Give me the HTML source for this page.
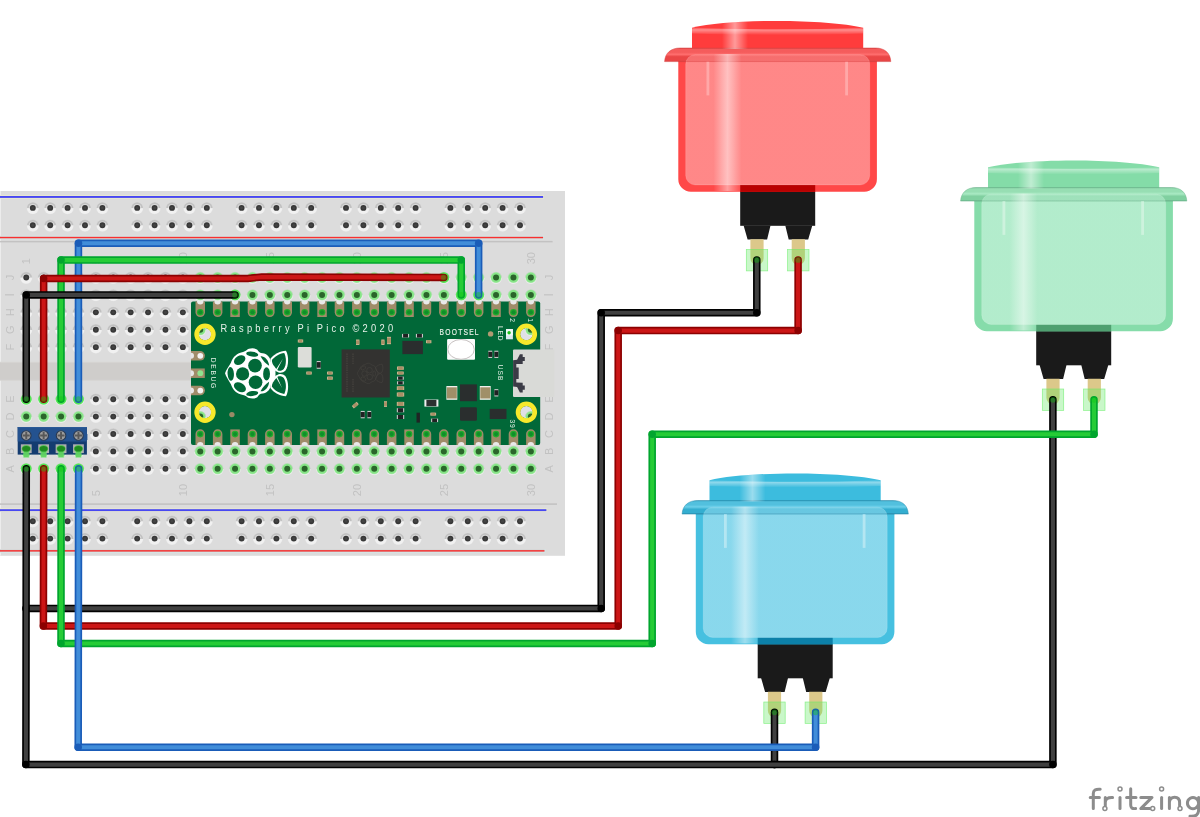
<!DOCTYPE html>
<html><head><meta charset="utf-8"><title>Fritzing breadboard</title>
<style>
html,body{margin:0;padding:0;background:#fff;}
body{width:1200px;height:817px;overflow:hidden;font-family:"Liberation Sans",sans-serif;}
svg{display:block;will-change:transform;opacity:0.9999;}
text{font-family:"Liberation Sans",sans-serif;}
</style></head><body>
<svg width="1200" height="817" viewBox="0 0 1200 817">
<defs>
<linearGradient id="hg" x1="0" y1="0" x2="0" y2="1"><stop offset="0" stop-color="#c2c2c2"/><stop offset="0.45" stop-color="#d6d6d6"/><stop offset="0.6" stop-color="#f2f2f2"/><stop offset="1" stop-color="#f8f8f8"/></linearGradient>
<radialGradient id="gg"><stop offset="0" stop-color="#86e486"/><stop offset="0.8" stop-color="#86e486"/><stop offset="1" stop-color="#b4ecb4"/></radialGradient>
<g id="hb"><path d="M-6 0.3A6 6 0 0 1 6 0.3Z" fill="#d0d0d0"/><path d="M-5.6 0.3A5.6 5.6 0 0 1 5.6 0.3Z" fill="#c0c0c0"/><path d="M-4.1 0.3A4.1 4.1 0 0 1 4.1 0.3Z" fill="#dadada"/><path d="M-6.1 0.3A6.1 6.1 0 0 0 6.1 0.3Z" fill="#e6e6e6"/><path d="M-5.7 0.3A5.7 5.7 0 0 0 5.7 0.3Z" fill="#f1f1f1"/></g>
<g id="h"><use href="#hb"/><circle r="2.95" fill="#383838"/><circle r="1.4" fill="#444"/></g>
<g id="g"><use href="#hb"/><circle r="5.5" fill="url(#gg)"/><circle r="3" fill="#2b652b"/></g>
<g id="pp"><circle r="3.3" fill="#22ad2c"/><circle r="2.1" fill="#108f2a"/></g>
</defs>
<rect width="1200" height="817" fill="#fff"/>

<g id="breadboard">
<rect x="0" y="191.0" width="565.0" height="364.79999999999995" fill="#dcdcdc"/>
<rect x="0" y="191.0" width="1" height="364.79999999999995" fill="#ececec"/>
<rect x="0" y="361.8" width="553" height="19" fill="#d6d5d3"/>
<rect x="0" y="362.8" width="553" height="17" fill="#cfcdcb"/>
<rect x="0" y="240.9" width="552.6" height="1.5" fill="#c3c2c2"/>
<rect x="0" y="195.1" width="544" height="3.7" fill="#e9e8d2"/>
<rect x="0" y="196" width="543.1" height="1.9" fill="#4848f2"/>
<rect x="0" y="235.8" width="544" height="3.5" fill="#d3e8e8"/>
<rect x="0" y="236.8" width="543.1" height="1.5" fill="#f83030"/>
<rect x="0" y="503.3" width="557" height="1.6" fill="#c3c2c2"/>
<rect x="0" y="508.3" width="547.3" height="3.7" fill="#e9e8d2"/>
<rect x="0" y="509.2" width="546.4" height="1.9" fill="#4848f2"/>
<rect x="0" y="549" width="545.4" height="3.7" fill="#d3e8e8"/>
<rect x="0" y="549.9" width="544.5" height="1.8" fill="#f04444"/>
<g font-size="11" fill="#c2c2c2">
<text transform="translate(13.5,277.55) rotate(-90)" text-anchor="middle">J</text>
<text transform="translate(553.3,277.55) rotate(-90)" text-anchor="middle">J</text>
<text transform="translate(13.5,294.95) rotate(-90)" text-anchor="middle" font-family="Liberation Mono" font-size="12">I</text>
<text transform="translate(553.3,294.95) rotate(-90)" text-anchor="middle" font-family="Liberation Mono" font-size="12">I</text>
<text transform="translate(13.5,312.35) rotate(-90)" text-anchor="middle">H</text>
<text transform="translate(553.3,312.35) rotate(-90)" text-anchor="middle">H</text>
<text transform="translate(13.5,329.75) rotate(-90)" text-anchor="middle">G</text>
<text transform="translate(553.3,329.75) rotate(-90)" text-anchor="middle">G</text>
<text transform="translate(13.5,347.15) rotate(-90)" text-anchor="middle">F</text>
<text transform="translate(553.3,347.15) rotate(-90)" text-anchor="middle">F</text>
<text transform="translate(13.5,399.2) rotate(-90)" text-anchor="middle">E</text>
<text transform="translate(553.3,399.2) rotate(-90)" text-anchor="middle">E</text>
<text transform="translate(13.5,416.6) rotate(-90)" text-anchor="middle">D</text>
<text transform="translate(553.3,416.6) rotate(-90)" text-anchor="middle">D</text>
<text transform="translate(13.5,434) rotate(-90)" text-anchor="middle">C</text>
<text transform="translate(553.3,434) rotate(-90)" text-anchor="middle">C</text>
<text transform="translate(13.5,451.4) rotate(-90)" text-anchor="middle">B</text>
<text transform="translate(553.3,451.4) rotate(-90)" text-anchor="middle">B</text>
<text transform="translate(13.5,468.8) rotate(-90)" text-anchor="middle">A</text>
<text transform="translate(553.3,468.8) rotate(-90)" text-anchor="middle">A</text>
<text transform="translate(30.25,264.3) rotate(-90)">1</text>
<text transform="translate(30.25,496.2) rotate(-90)">1</text>
<text transform="translate(99.85,264.3) rotate(-90)">5</text>
<text transform="translate(99.85,496.2) rotate(-90)">5</text>
<text transform="translate(186.85,264.3) rotate(-90)">10</text>
<text transform="translate(186.85,496.2) rotate(-90)">10</text>
<text transform="translate(273.85,264.3) rotate(-90)">15</text>
<text transform="translate(273.85,496.2) rotate(-90)">15</text>
<text transform="translate(360.85,264.3) rotate(-90)">20</text>
<text transform="translate(360.85,496.2) rotate(-90)">20</text>
<text transform="translate(447.85,264.3) rotate(-90)">25</text>
<text transform="translate(447.85,496.2) rotate(-90)">25</text>
<text transform="translate(534.85,264.3) rotate(-90)">30</text>
<text transform="translate(534.85,496.2) rotate(-90)">30</text>
</g>
<use href="#h" x="32.8" y="207.9"/>
<use href="#h" x="50.2" y="207.9"/>
<use href="#h" x="67.6" y="207.9"/>
<use href="#h" x="85" y="207.9"/>
<use href="#h" x="102.4" y="207.9"/>
<use href="#h" x="137.2" y="207.9"/>
<use href="#h" x="154.6" y="207.9"/>
<use href="#h" x="172" y="207.9"/>
<use href="#h" x="189.4" y="207.9"/>
<use href="#h" x="206.8" y="207.9"/>
<use href="#h" x="241.6" y="207.9"/>
<use href="#h" x="259" y="207.9"/>
<use href="#h" x="276.4" y="207.9"/>
<use href="#h" x="293.8" y="207.9"/>
<use href="#h" x="311.2" y="207.9"/>
<use href="#h" x="346" y="207.9"/>
<use href="#h" x="363.4" y="207.9"/>
<use href="#h" x="380.8" y="207.9"/>
<use href="#h" x="398.2" y="207.9"/>
<use href="#h" x="415.6" y="207.9"/>
<use href="#h" x="450.4" y="207.9"/>
<use href="#h" x="467.8" y="207.9"/>
<use href="#h" x="485.2" y="207.9"/>
<use href="#h" x="502.6" y="207.9"/>
<use href="#h" x="520" y="207.9"/>
<use href="#h" x="32.8" y="225.3"/>
<use href="#h" x="50.2" y="225.3"/>
<use href="#h" x="67.6" y="225.3"/>
<use href="#h" x="85" y="225.3"/>
<use href="#h" x="102.4" y="225.3"/>
<use href="#h" x="137.2" y="225.3"/>
<use href="#h" x="154.6" y="225.3"/>
<use href="#h" x="172" y="225.3"/>
<use href="#h" x="189.4" y="225.3"/>
<use href="#h" x="206.8" y="225.3"/>
<use href="#h" x="241.6" y="225.3"/>
<use href="#h" x="259" y="225.3"/>
<use href="#h" x="276.4" y="225.3"/>
<use href="#h" x="293.8" y="225.3"/>
<use href="#h" x="311.2" y="225.3"/>
<use href="#h" x="346" y="225.3"/>
<use href="#h" x="363.4" y="225.3"/>
<use href="#h" x="380.8" y="225.3"/>
<use href="#h" x="398.2" y="225.3"/>
<use href="#h" x="415.6" y="225.3"/>
<use href="#h" x="450.4" y="225.3"/>
<use href="#h" x="467.8" y="225.3"/>
<use href="#h" x="485.2" y="225.3"/>
<use href="#h" x="502.6" y="225.3"/>
<use href="#h" x="520" y="225.3"/>
<use href="#h" x="32.8" y="521.2"/>
<use href="#h" x="50.2" y="521.2"/>
<use href="#h" x="67.6" y="521.2"/>
<use href="#h" x="85" y="521.2"/>
<use href="#h" x="102.4" y="521.2"/>
<use href="#h" x="137.2" y="521.2"/>
<use href="#h" x="154.6" y="521.2"/>
<use href="#h" x="172" y="521.2"/>
<use href="#h" x="189.4" y="521.2"/>
<use href="#h" x="206.8" y="521.2"/>
<use href="#h" x="241.6" y="521.2"/>
<use href="#h" x="259" y="521.2"/>
<use href="#h" x="276.4" y="521.2"/>
<use href="#h" x="293.8" y="521.2"/>
<use href="#h" x="311.2" y="521.2"/>
<use href="#h" x="346" y="521.2"/>
<use href="#h" x="363.4" y="521.2"/>
<use href="#h" x="380.8" y="521.2"/>
<use href="#h" x="398.2" y="521.2"/>
<use href="#h" x="415.6" y="521.2"/>
<use href="#h" x="450.4" y="521.2"/>
<use href="#h" x="467.8" y="521.2"/>
<use href="#h" x="485.2" y="521.2"/>
<use href="#h" x="502.6" y="521.2"/>
<use href="#h" x="520" y="521.2"/>
<use href="#h" x="32.8" y="538.6"/>
<use href="#h" x="50.2" y="538.6"/>
<use href="#h" x="67.6" y="538.6"/>
<use href="#h" x="85" y="538.6"/>
<use href="#h" x="102.4" y="538.6"/>
<use href="#h" x="137.2" y="538.6"/>
<use href="#h" x="154.6" y="538.6"/>
<use href="#h" x="172" y="538.6"/>
<use href="#h" x="189.4" y="538.6"/>
<use href="#h" x="206.8" y="538.6"/>
<use href="#h" x="241.6" y="538.6"/>
<use href="#h" x="259" y="538.6"/>
<use href="#h" x="276.4" y="538.6"/>
<use href="#h" x="293.8" y="538.6"/>
<use href="#h" x="311.2" y="538.6"/>
<use href="#h" x="346" y="538.6"/>
<use href="#h" x="363.4" y="538.6"/>
<use href="#h" x="380.8" y="538.6"/>
<use href="#h" x="398.2" y="538.6"/>
<use href="#h" x="415.6" y="538.6"/>
<use href="#h" x="450.4" y="538.6"/>
<use href="#h" x="467.8" y="538.6"/>
<use href="#h" x="485.2" y="538.6"/>
<use href="#h" x="502.6" y="538.6"/>
<use href="#h" x="520" y="538.6"/>
<use href="#h" x="26.25" y="277.55"/>
<use href="#h" x="43.65" y="277.55"/>
<use href="#h" x="61.05" y="277.55"/>
<use href="#h" x="78.45" y="277.55"/>
<use href="#h" x="95.85" y="277.55"/>
<use href="#h" x="113.25" y="277.55"/>
<use href="#h" x="130.65" y="277.55"/>
<use href="#h" x="148.05" y="277.55"/>
<use href="#h" x="165.45" y="277.55"/>
<use href="#h" x="182.85" y="277.55"/>
<use href="#g" x="200.25" y="277.55"/>
<use href="#g" x="217.65" y="277.55"/>
<use href="#g" x="235.05" y="277.55"/>
<use href="#g" x="252.45" y="277.55"/>
<use href="#g" x="269.85" y="277.55"/>
<use href="#g" x="287.25" y="277.55"/>
<use href="#g" x="304.65" y="277.55"/>
<use href="#g" x="322.05" y="277.55"/>
<use href="#g" x="339.45" y="277.55"/>
<use href="#g" x="356.85" y="277.55"/>
<use href="#g" x="374.25" y="277.55"/>
<use href="#g" x="391.65" y="277.55"/>
<use href="#g" x="409.05" y="277.55"/>
<use href="#g" x="426.45" y="277.55"/>
<use href="#g" x="443.85" y="277.55"/>
<use href="#g" x="461.25" y="277.55"/>
<use href="#g" x="478.65" y="277.55"/>
<use href="#g" x="496.05" y="277.55"/>
<use href="#g" x="513.45" y="277.55"/>
<use href="#g" x="530.85" y="277.55"/>
<use href="#h" x="26.25" y="294.95"/>
<use href="#h" x="43.65" y="294.95"/>
<use href="#h" x="61.05" y="294.95"/>
<use href="#h" x="78.45" y="294.95"/>
<use href="#h" x="95.85" y="294.95"/>
<use href="#h" x="113.25" y="294.95"/>
<use href="#h" x="130.65" y="294.95"/>
<use href="#h" x="148.05" y="294.95"/>
<use href="#h" x="165.45" y="294.95"/>
<use href="#h" x="182.85" y="294.95"/>
<use href="#g" x="200.25" y="294.95"/>
<use href="#g" x="217.65" y="294.95"/>
<use href="#g" x="235.05" y="294.95"/>
<use href="#g" x="252.45" y="294.95"/>
<use href="#g" x="269.85" y="294.95"/>
<use href="#g" x="287.25" y="294.95"/>
<use href="#g" x="304.65" y="294.95"/>
<use href="#g" x="322.05" y="294.95"/>
<use href="#g" x="339.45" y="294.95"/>
<use href="#g" x="356.85" y="294.95"/>
<use href="#g" x="374.25" y="294.95"/>
<use href="#g" x="391.65" y="294.95"/>
<use href="#g" x="409.05" y="294.95"/>
<use href="#g" x="426.45" y="294.95"/>
<use href="#g" x="443.85" y="294.95"/>
<use href="#g" x="461.25" y="294.95"/>
<use href="#g" x="478.65" y="294.95"/>
<use href="#g" x="496.05" y="294.95"/>
<use href="#g" x="513.45" y="294.95"/>
<use href="#g" x="530.85" y="294.95"/>
<use href="#h" x="26.25" y="312.35"/>
<use href="#h" x="43.65" y="312.35"/>
<use href="#h" x="61.05" y="312.35"/>
<use href="#h" x="78.45" y="312.35"/>
<use href="#h" x="95.85" y="312.35"/>
<use href="#h" x="113.25" y="312.35"/>
<use href="#h" x="130.65" y="312.35"/>
<use href="#h" x="148.05" y="312.35"/>
<use href="#h" x="165.45" y="312.35"/>
<use href="#h" x="182.85" y="312.35"/>
<use href="#g" x="200.25" y="312.35"/>
<use href="#g" x="217.65" y="312.35"/>
<use href="#g" x="235.05" y="312.35"/>
<use href="#g" x="252.45" y="312.35"/>
<use href="#g" x="269.85" y="312.35"/>
<use href="#g" x="287.25" y="312.35"/>
<use href="#g" x="304.65" y="312.35"/>
<use href="#g" x="322.05" y="312.35"/>
<use href="#g" x="339.45" y="312.35"/>
<use href="#g" x="356.85" y="312.35"/>
<use href="#g" x="374.25" y="312.35"/>
<use href="#g" x="391.65" y="312.35"/>
<use href="#g" x="409.05" y="312.35"/>
<use href="#g" x="426.45" y="312.35"/>
<use href="#g" x="443.85" y="312.35"/>
<use href="#g" x="461.25" y="312.35"/>
<use href="#g" x="478.65" y="312.35"/>
<use href="#g" x="496.05" y="312.35"/>
<use href="#g" x="513.45" y="312.35"/>
<use href="#g" x="530.85" y="312.35"/>
<use href="#h" x="26.25" y="329.75"/>
<use href="#h" x="43.65" y="329.75"/>
<use href="#h" x="61.05" y="329.75"/>
<use href="#h" x="78.45" y="329.75"/>
<use href="#h" x="95.85" y="329.75"/>
<use href="#h" x="113.25" y="329.75"/>
<use href="#h" x="130.65" y="329.75"/>
<use href="#h" x="148.05" y="329.75"/>
<use href="#h" x="165.45" y="329.75"/>
<use href="#h" x="182.85" y="329.75"/>
<use href="#g" x="200.25" y="329.75"/>
<use href="#g" x="217.65" y="329.75"/>
<use href="#g" x="235.05" y="329.75"/>
<use href="#g" x="252.45" y="329.75"/>
<use href="#g" x="269.85" y="329.75"/>
<use href="#g" x="287.25" y="329.75"/>
<use href="#g" x="304.65" y="329.75"/>
<use href="#g" x="322.05" y="329.75"/>
<use href="#g" x="339.45" y="329.75"/>
<use href="#g" x="356.85" y="329.75"/>
<use href="#g" x="374.25" y="329.75"/>
<use href="#g" x="391.65" y="329.75"/>
<use href="#g" x="409.05" y="329.75"/>
<use href="#g" x="426.45" y="329.75"/>
<use href="#g" x="443.85" y="329.75"/>
<use href="#g" x="461.25" y="329.75"/>
<use href="#g" x="478.65" y="329.75"/>
<use href="#g" x="496.05" y="329.75"/>
<use href="#g" x="513.45" y="329.75"/>
<use href="#g" x="530.85" y="329.75"/>
<use href="#h" x="26.25" y="347.15"/>
<use href="#h" x="43.65" y="347.15"/>
<use href="#h" x="61.05" y="347.15"/>
<use href="#h" x="78.45" y="347.15"/>
<use href="#h" x="95.85" y="347.15"/>
<use href="#h" x="113.25" y="347.15"/>
<use href="#h" x="130.65" y="347.15"/>
<use href="#h" x="148.05" y="347.15"/>
<use href="#h" x="165.45" y="347.15"/>
<use href="#h" x="182.85" y="347.15"/>
<use href="#g" x="200.25" y="347.15"/>
<use href="#g" x="217.65" y="347.15"/>
<use href="#g" x="235.05" y="347.15"/>
<use href="#g" x="252.45" y="347.15"/>
<use href="#g" x="269.85" y="347.15"/>
<use href="#g" x="287.25" y="347.15"/>
<use href="#g" x="304.65" y="347.15"/>
<use href="#g" x="322.05" y="347.15"/>
<use href="#g" x="339.45" y="347.15"/>
<use href="#g" x="356.85" y="347.15"/>
<use href="#g" x="374.25" y="347.15"/>
<use href="#g" x="391.65" y="347.15"/>
<use href="#g" x="409.05" y="347.15"/>
<use href="#g" x="426.45" y="347.15"/>
<use href="#g" x="443.85" y="347.15"/>
<use href="#g" x="461.25" y="347.15"/>
<use href="#g" x="478.65" y="347.15"/>
<use href="#g" x="496.05" y="347.15"/>
<use href="#g" x="513.45" y="347.15"/>
<use href="#g" x="530.85" y="347.15"/>
<use href="#g" x="26.25" y="399.2"/>
<use href="#g" x="43.65" y="399.2"/>
<use href="#g" x="61.05" y="399.2"/>
<use href="#g" x="78.45" y="399.2"/>
<use href="#h" x="95.85" y="399.2"/>
<use href="#h" x="113.25" y="399.2"/>
<use href="#h" x="130.65" y="399.2"/>
<use href="#h" x="148.05" y="399.2"/>
<use href="#h" x="165.45" y="399.2"/>
<use href="#h" x="182.85" y="399.2"/>
<use href="#g" x="200.25" y="399.2"/>
<use href="#g" x="217.65" y="399.2"/>
<use href="#g" x="235.05" y="399.2"/>
<use href="#g" x="252.45" y="399.2"/>
<use href="#g" x="269.85" y="399.2"/>
<use href="#g" x="287.25" y="399.2"/>
<use href="#g" x="304.65" y="399.2"/>
<use href="#g" x="322.05" y="399.2"/>
<use href="#g" x="339.45" y="399.2"/>
<use href="#g" x="356.85" y="399.2"/>
<use href="#g" x="374.25" y="399.2"/>
<use href="#g" x="391.65" y="399.2"/>
<use href="#g" x="409.05" y="399.2"/>
<use href="#g" x="426.45" y="399.2"/>
<use href="#g" x="443.85" y="399.2"/>
<use href="#g" x="461.25" y="399.2"/>
<use href="#g" x="478.65" y="399.2"/>
<use href="#g" x="496.05" y="399.2"/>
<use href="#g" x="513.45" y="399.2"/>
<use href="#g" x="530.85" y="399.2"/>
<use href="#g" x="26.25" y="416.6"/>
<use href="#g" x="43.65" y="416.6"/>
<use href="#g" x="61.05" y="416.6"/>
<use href="#g" x="78.45" y="416.6"/>
<use href="#h" x="95.85" y="416.6"/>
<use href="#h" x="113.25" y="416.6"/>
<use href="#h" x="130.65" y="416.6"/>
<use href="#h" x="148.05" y="416.6"/>
<use href="#h" x="165.45" y="416.6"/>
<use href="#h" x="182.85" y="416.6"/>
<use href="#g" x="200.25" y="416.6"/>
<use href="#g" x="217.65" y="416.6"/>
<use href="#g" x="235.05" y="416.6"/>
<use href="#g" x="252.45" y="416.6"/>
<use href="#g" x="269.85" y="416.6"/>
<use href="#g" x="287.25" y="416.6"/>
<use href="#g" x="304.65" y="416.6"/>
<use href="#g" x="322.05" y="416.6"/>
<use href="#g" x="339.45" y="416.6"/>
<use href="#g" x="356.85" y="416.6"/>
<use href="#g" x="374.25" y="416.6"/>
<use href="#g" x="391.65" y="416.6"/>
<use href="#g" x="409.05" y="416.6"/>
<use href="#g" x="426.45" y="416.6"/>
<use href="#g" x="443.85" y="416.6"/>
<use href="#g" x="461.25" y="416.6"/>
<use href="#g" x="478.65" y="416.6"/>
<use href="#g" x="496.05" y="416.6"/>
<use href="#g" x="513.45" y="416.6"/>
<use href="#g" x="530.85" y="416.6"/>
<use href="#g" x="26.25" y="434"/>
<use href="#g" x="43.65" y="434"/>
<use href="#g" x="61.05" y="434"/>
<use href="#g" x="78.45" y="434"/>
<use href="#h" x="95.85" y="434"/>
<use href="#h" x="113.25" y="434"/>
<use href="#h" x="130.65" y="434"/>
<use href="#h" x="148.05" y="434"/>
<use href="#h" x="165.45" y="434"/>
<use href="#h" x="182.85" y="434"/>
<use href="#g" x="200.25" y="434"/>
<use href="#g" x="217.65" y="434"/>
<use href="#g" x="235.05" y="434"/>
<use href="#g" x="252.45" y="434"/>
<use href="#g" x="269.85" y="434"/>
<use href="#g" x="287.25" y="434"/>
<use href="#g" x="304.65" y="434"/>
<use href="#g" x="322.05" y="434"/>
<use href="#g" x="339.45" y="434"/>
<use href="#g" x="356.85" y="434"/>
<use href="#g" x="374.25" y="434"/>
<use href="#g" x="391.65" y="434"/>
<use href="#g" x="409.05" y="434"/>
<use href="#g" x="426.45" y="434"/>
<use href="#g" x="443.85" y="434"/>
<use href="#g" x="461.25" y="434"/>
<use href="#g" x="478.65" y="434"/>
<use href="#g" x="496.05" y="434"/>
<use href="#g" x="513.45" y="434"/>
<use href="#g" x="530.85" y="434"/>
<use href="#g" x="26.25" y="451.4"/>
<use href="#g" x="43.65" y="451.4"/>
<use href="#g" x="61.05" y="451.4"/>
<use href="#g" x="78.45" y="451.4"/>
<use href="#h" x="95.85" y="451.4"/>
<use href="#h" x="113.25" y="451.4"/>
<use href="#h" x="130.65" y="451.4"/>
<use href="#h" x="148.05" y="451.4"/>
<use href="#h" x="165.45" y="451.4"/>
<use href="#h" x="182.85" y="451.4"/>
<use href="#g" x="200.25" y="451.4"/>
<use href="#g" x="217.65" y="451.4"/>
<use href="#g" x="235.05" y="451.4"/>
<use href="#g" x="252.45" y="451.4"/>
<use href="#g" x="269.85" y="451.4"/>
<use href="#g" x="287.25" y="451.4"/>
<use href="#g" x="304.65" y="451.4"/>
<use href="#g" x="322.05" y="451.4"/>
<use href="#g" x="339.45" y="451.4"/>
<use href="#g" x="356.85" y="451.4"/>
<use href="#g" x="374.25" y="451.4"/>
<use href="#g" x="391.65" y="451.4"/>
<use href="#g" x="409.05" y="451.4"/>
<use href="#g" x="426.45" y="451.4"/>
<use href="#g" x="443.85" y="451.4"/>
<use href="#g" x="461.25" y="451.4"/>
<use href="#g" x="478.65" y="451.4"/>
<use href="#g" x="496.05" y="451.4"/>
<use href="#g" x="513.45" y="451.4"/>
<use href="#g" x="530.85" y="451.4"/>
<use href="#g" x="26.25" y="468.8"/>
<use href="#g" x="43.65" y="468.8"/>
<use href="#g" x="61.05" y="468.8"/>
<use href="#g" x="78.45" y="468.8"/>
<use href="#h" x="95.85" y="468.8"/>
<use href="#h" x="113.25" y="468.8"/>
<use href="#h" x="130.65" y="468.8"/>
<use href="#h" x="148.05" y="468.8"/>
<use href="#h" x="165.45" y="468.8"/>
<use href="#h" x="182.85" y="468.8"/>
<use href="#g" x="200.25" y="468.8"/>
<use href="#g" x="217.65" y="468.8"/>
<use href="#g" x="235.05" y="468.8"/>
<use href="#g" x="252.45" y="468.8"/>
<use href="#g" x="269.85" y="468.8"/>
<use href="#g" x="287.25" y="468.8"/>
<use href="#g" x="304.65" y="468.8"/>
<use href="#g" x="322.05" y="468.8"/>
<use href="#g" x="339.45" y="468.8"/>
<use href="#g" x="356.85" y="468.8"/>
<use href="#g" x="374.25" y="468.8"/>
<use href="#g" x="391.65" y="468.8"/>
<use href="#g" x="409.05" y="468.8"/>
<use href="#g" x="426.45" y="468.8"/>
<use href="#g" x="443.85" y="468.8"/>
<use href="#g" x="461.25" y="468.8"/>
<use href="#g" x="478.65" y="468.8"/>
<use href="#g" x="496.05" y="468.8"/>
<use href="#g" x="513.45" y="468.8"/>
<use href="#g" x="530.85" y="468.8"/>
</g>
<g id="terminal">
<rect x="17.7" y="427.1" width="69.2" height="27.5" fill="#143c70"/>
<rect x="17.7" y="427.1" width="69.2" height="14.4" fill="#24528f"/>
<rect x="17.7" y="427.1" width="69.2" height="1" fill="#2c5a98"/>
<rect x="86.4" y="434" width="1" height="6" fill="#24528f"/>
<circle cx="26.25" cy="435.5" r="4.8" fill="#9c9c9c" stroke="#2a3a52" stroke-width="1.1"/>
<path d="M22.75 435.5h7M26.25 432v7" stroke="#585858" stroke-width="1.9" fill="none"/>
<rect x="20.85" y="444.3" width="10.8" height="8.8" fill="#b0aeb0"/>
<rect x="22.95" y="450.6" width="6.6" height="7.2" rx="0.8" fill="#7be87b" opacity="0.55"/>
<rect x="23.75" y="451" width="5" height="6.3" fill="#5fd25f" opacity="0.9"/>
<ellipse cx="26.25" cy="448.7" rx="4.6" ry="3.7" fill="#46c846" opacity="0.75"/>
<ellipse cx="26.25" cy="448.7" rx="4" ry="2.8" fill="#1f8a1f"/>
<circle cx="43.65" cy="435.5" r="4.8" fill="#9c9c9c" stroke="#2a3a52" stroke-width="1.1"/>
<path d="M40.15 435.5h7M43.65 432v7" stroke="#585858" stroke-width="1.9" fill="none"/>
<rect x="38.25" y="444.3" width="10.8" height="8.8" fill="#b0aeb0"/>
<rect x="40.35" y="450.6" width="6.6" height="7.2" rx="0.8" fill="#7be87b" opacity="0.55"/>
<rect x="41.15" y="451" width="5" height="6.3" fill="#5fd25f" opacity="0.9"/>
<ellipse cx="43.65" cy="448.7" rx="4.6" ry="3.7" fill="#46c846" opacity="0.75"/>
<ellipse cx="43.65" cy="448.7" rx="4" ry="2.8" fill="#1f8a1f"/>
<circle cx="61.05" cy="435.5" r="4.8" fill="#9c9c9c" stroke="#2a3a52" stroke-width="1.1"/>
<path d="M57.55 435.5h7M61.05 432v7" stroke="#585858" stroke-width="1.9" fill="none"/>
<rect x="55.65" y="444.3" width="10.8" height="8.8" fill="#b0aeb0"/>
<rect x="57.75" y="450.6" width="6.6" height="7.2" rx="0.8" fill="#7be87b" opacity="0.55"/>
<rect x="58.55" y="451" width="5" height="6.3" fill="#5fd25f" opacity="0.9"/>
<ellipse cx="61.05" cy="448.7" rx="4.6" ry="3.7" fill="#46c846" opacity="0.75"/>
<ellipse cx="61.05" cy="448.7" rx="4" ry="2.8" fill="#1f8a1f"/>
<circle cx="78.45" cy="435.5" r="4.8" fill="#9c9c9c" stroke="#2a3a52" stroke-width="1.1"/>
<path d="M74.95 435.5h7M78.45 432v7" stroke="#585858" stroke-width="1.9" fill="none"/>
<rect x="73.05" y="444.3" width="10.8" height="8.8" fill="#b0aeb0"/>
<rect x="75.15" y="450.6" width="6.6" height="7.2" rx="0.8" fill="#7be87b" opacity="0.55"/>
<rect x="75.95" y="451" width="5" height="6.3" fill="#5fd25f" opacity="0.9"/>
<ellipse cx="78.45" cy="448.7" rx="4.6" ry="3.7" fill="#46c846" opacity="0.75"/>
<ellipse cx="78.45" cy="448.7" rx="4" ry="2.8" fill="#1f8a1f"/>
</g>
<g id="pico">
<rect x="191.0" y="301.4" width="349.20000000000005" height="143.60000000000002" rx="2" fill="#006838"/>
<path d="M195.5 301.4h9.5v10.9a4.75 4.75 0 0 1 -9.5 0z" fill="#a08c69"/>
<path d="M195.5 445.0h9.5v-10.9a4.75 4.75 0 0 0 -9.5 0z" fill="#a08c69"/>
<path d="M197.05 301.09999999999997h6.4v0.3a3.2 3 0 0 1 -6.4 0z" fill="#e9e9e9"/>
<path d="M197.05 445.3h6.4v-0.3a3.2 3 0 0 0 -6.4 0z" fill="#e9e9e9"/>
<use href="#pp" x="200.25" y="312.25"/>
<use href="#pp" x="200.25" y="434.1"/>
<path d="M212.9 301.4h9.5v10.9a4.75 4.75 0 0 1 -9.5 0z" fill="#a08c69"/>
<path d="M212.9 445.0h9.5v-10.9a4.75 4.75 0 0 0 -9.5 0z" fill="#a08c69"/>
<path d="M214.45 301.09999999999997h6.4v0.3a3.2 3 0 0 1 -6.4 0z" fill="#e9e9e9"/>
<path d="M214.45 445.3h6.4v-0.3a3.2 3 0 0 0 -6.4 0z" fill="#e9e9e9"/>
<use href="#pp" x="217.65" y="312.25"/>
<use href="#pp" x="217.65" y="434.1"/>
<rect x="230.3" y="301.4" width="9.5" height="15.6" fill="#a08c69"/>
<rect x="230.3" y="429.4" width="9.5" height="15.6" fill="#a08c69"/>
<path d="M231.85 301.09999999999997h6.4v0.3a3.2 3 0 0 1 -6.4 0z" fill="#e9e9e9"/>
<path d="M231.85 445.3h6.4v-0.3a3.2 3 0 0 0 -6.4 0z" fill="#e9e9e9"/>
<use href="#pp" x="235.05" y="312.25"/>
<use href="#pp" x="235.05" y="434.1"/>
<path d="M247.7 301.4h9.5v10.9a4.75 4.75 0 0 1 -9.5 0z" fill="#a08c69"/>
<path d="M247.7 445.0h9.5v-10.9a4.75 4.75 0 0 0 -9.5 0z" fill="#a08c69"/>
<path d="M249.25 301.09999999999997h6.4v0.3a3.2 3 0 0 1 -6.4 0z" fill="#e9e9e9"/>
<path d="M249.25 445.3h6.4v-0.3a3.2 3 0 0 0 -6.4 0z" fill="#e9e9e9"/>
<use href="#pp" x="252.45" y="312.25"/>
<use href="#pp" x="252.45" y="434.1"/>
<path d="M265.1 301.4h9.5v10.9a4.75 4.75 0 0 1 -9.5 0z" fill="#a08c69"/>
<path d="M265.1 445.0h9.5v-10.9a4.75 4.75 0 0 0 -9.5 0z" fill="#a08c69"/>
<path d="M266.65 301.09999999999997h6.4v0.3a3.2 3 0 0 1 -6.4 0z" fill="#e9e9e9"/>
<path d="M266.65 445.3h6.4v-0.3a3.2 3 0 0 0 -6.4 0z" fill="#e9e9e9"/>
<use href="#pp" x="269.85" y="312.25"/>
<use href="#pp" x="269.85" y="434.1"/>
<path d="M282.5 301.4h9.5v10.9a4.75 4.75 0 0 1 -9.5 0z" fill="#a08c69"/>
<path d="M282.5 445.0h9.5v-10.9a4.75 4.75 0 0 0 -9.5 0z" fill="#a08c69"/>
<path d="M284.05 301.09999999999997h6.4v0.3a3.2 3 0 0 1 -6.4 0z" fill="#e9e9e9"/>
<path d="M284.05 445.3h6.4v-0.3a3.2 3 0 0 0 -6.4 0z" fill="#e9e9e9"/>
<use href="#pp" x="287.25" y="312.25"/>
<use href="#pp" x="287.25" y="434.1"/>
<path d="M299.9 301.4h9.5v10.9a4.75 4.75 0 0 1 -9.5 0z" fill="#a08c69"/>
<path d="M299.9 445.0h9.5v-10.9a4.75 4.75 0 0 0 -9.5 0z" fill="#a08c69"/>
<path d="M301.45 301.09999999999997h6.4v0.3a3.2 3 0 0 1 -6.4 0z" fill="#e9e9e9"/>
<path d="M301.45 445.3h6.4v-0.3a3.2 3 0 0 0 -6.4 0z" fill="#e9e9e9"/>
<use href="#pp" x="304.65" y="312.25"/>
<use href="#pp" x="304.65" y="434.1"/>
<rect x="317.3" y="301.4" width="9.5" height="15.6" fill="#a08c69"/>
<rect x="317.3" y="429.4" width="9.5" height="15.6" fill="#a08c69"/>
<path d="M318.85 301.09999999999997h6.4v0.3a3.2 3 0 0 1 -6.4 0z" fill="#e9e9e9"/>
<path d="M318.85 445.3h6.4v-0.3a3.2 3 0 0 0 -6.4 0z" fill="#e9e9e9"/>
<use href="#pp" x="322.05" y="312.25"/>
<use href="#pp" x="322.05" y="434.1"/>
<path d="M334.7 301.4h9.5v10.9a4.75 4.75 0 0 1 -9.5 0z" fill="#a08c69"/>
<path d="M334.7 445.0h9.5v-10.9a4.75 4.75 0 0 0 -9.5 0z" fill="#a08c69"/>
<path d="M336.25 301.09999999999997h6.4v0.3a3.2 3 0 0 1 -6.4 0z" fill="#e9e9e9"/>
<path d="M336.25 445.3h6.4v-0.3a3.2 3 0 0 0 -6.4 0z" fill="#e9e9e9"/>
<use href="#pp" x="339.45" y="312.25"/>
<use href="#pp" x="339.45" y="434.1"/>
<path d="M352.1 301.4h9.5v10.9a4.75 4.75 0 0 1 -9.5 0z" fill="#a08c69"/>
<path d="M352.1 445.0h9.5v-10.9a4.75 4.75 0 0 0 -9.5 0z" fill="#a08c69"/>
<path d="M353.65 301.09999999999997h6.4v0.3a3.2 3 0 0 1 -6.4 0z" fill="#e9e9e9"/>
<path d="M353.65 445.3h6.4v-0.3a3.2 3 0 0 0 -6.4 0z" fill="#e9e9e9"/>
<use href="#pp" x="356.85" y="312.25"/>
<use href="#pp" x="356.85" y="434.1"/>
<path d="M369.5 301.4h9.5v10.9a4.75 4.75 0 0 1 -9.5 0z" fill="#a08c69"/>
<path d="M369.5 445.0h9.5v-10.9a4.75 4.75 0 0 0 -9.5 0z" fill="#a08c69"/>
<path d="M371.05 301.09999999999997h6.4v0.3a3.2 3 0 0 1 -6.4 0z" fill="#e9e9e9"/>
<path d="M371.05 445.3h6.4v-0.3a3.2 3 0 0 0 -6.4 0z" fill="#e9e9e9"/>
<use href="#pp" x="374.25" y="312.25"/>
<use href="#pp" x="374.25" y="434.1"/>
<path d="M386.9 301.4h9.5v10.9a4.75 4.75 0 0 1 -9.5 0z" fill="#a08c69"/>
<path d="M386.9 445.0h9.5v-10.9a4.75 4.75 0 0 0 -9.5 0z" fill="#a08c69"/>
<path d="M388.45 301.09999999999997h6.4v0.3a3.2 3 0 0 1 -6.4 0z" fill="#e9e9e9"/>
<path d="M388.45 445.3h6.4v-0.3a3.2 3 0 0 0 -6.4 0z" fill="#e9e9e9"/>
<use href="#pp" x="391.65" y="312.25"/>
<use href="#pp" x="391.65" y="434.1"/>
<rect x="404.3" y="301.4" width="9.5" height="15.6" fill="#a08c69"/>
<rect x="404.3" y="429.4" width="9.5" height="15.6" fill="#a08c69"/>
<path d="M405.85 301.09999999999997h6.4v0.3a3.2 3 0 0 1 -6.4 0z" fill="#e9e9e9"/>
<path d="M405.85 445.3h6.4v-0.3a3.2 3 0 0 0 -6.4 0z" fill="#e9e9e9"/>
<use href="#pp" x="409.05" y="312.25"/>
<use href="#pp" x="409.05" y="434.1"/>
<path d="M421.7 301.4h9.5v10.9a4.75 4.75 0 0 1 -9.5 0z" fill="#a08c69"/>
<path d="M421.7 445.0h9.5v-10.9a4.75 4.75 0 0 0 -9.5 0z" fill="#a08c69"/>
<path d="M423.25 301.09999999999997h6.4v0.3a3.2 3 0 0 1 -6.4 0z" fill="#e9e9e9"/>
<path d="M423.25 445.3h6.4v-0.3a3.2 3 0 0 0 -6.4 0z" fill="#e9e9e9"/>
<use href="#pp" x="426.45" y="312.25"/>
<use href="#pp" x="426.45" y="434.1"/>
<path d="M439.1 301.4h9.5v10.9a4.75 4.75 0 0 1 -9.5 0z" fill="#a08c69"/>
<path d="M439.1 445.0h9.5v-10.9a4.75 4.75 0 0 0 -9.5 0z" fill="#a08c69"/>
<path d="M440.65 301.09999999999997h6.4v0.3a3.2 3 0 0 1 -6.4 0z" fill="#e9e9e9"/>
<path d="M440.65 445.3h6.4v-0.3a3.2 3 0 0 0 -6.4 0z" fill="#e9e9e9"/>
<use href="#pp" x="443.85" y="312.25"/>
<use href="#pp" x="443.85" y="434.1"/>
<path d="M456.5 301.4h9.5v10.9a4.75 4.75 0 0 1 -9.5 0z" fill="#a08c69"/>
<path d="M456.5 445.0h9.5v-10.9a4.75 4.75 0 0 0 -9.5 0z" fill="#a08c69"/>
<path d="M458.05 301.09999999999997h6.4v0.3a3.2 3 0 0 1 -6.4 0z" fill="#e9e9e9"/>
<path d="M458.05 445.3h6.4v-0.3a3.2 3 0 0 0 -6.4 0z" fill="#e9e9e9"/>
<use href="#pp" x="461.25" y="312.25"/>
<use href="#pp" x="461.25" y="434.1"/>
<path d="M473.9 301.4h9.5v10.9a4.75 4.75 0 0 1 -9.5 0z" fill="#a08c69"/>
<path d="M473.9 445.0h9.5v-10.9a4.75 4.75 0 0 0 -9.5 0z" fill="#a08c69"/>
<path d="M475.45 301.09999999999997h6.4v0.3a3.2 3 0 0 1 -6.4 0z" fill="#e9e9e9"/>
<path d="M475.45 445.3h6.4v-0.3a3.2 3 0 0 0 -6.4 0z" fill="#e9e9e9"/>
<use href="#pp" x="478.65" y="312.25"/>
<use href="#pp" x="478.65" y="434.1"/>
<rect x="491.3" y="301.4" width="9.5" height="15.6" fill="#a08c69"/>
<rect x="491.3" y="429.4" width="9.5" height="15.6" fill="#a08c69"/>
<path d="M492.85 301.09999999999997h6.4v0.3a3.2 3 0 0 1 -6.4 0z" fill="#e9e9e9"/>
<path d="M492.85 445.3h6.4v-0.3a3.2 3 0 0 0 -6.4 0z" fill="#e9e9e9"/>
<use href="#pp" x="496.05" y="312.25"/>
<use href="#pp" x="496.05" y="434.1"/>
<path d="M508.7 301.4h9.5v10.9a4.75 4.75 0 0 1 -9.5 0z" fill="#a08c69"/>
<path d="M508.7 445.0h9.5v-10.9a4.75 4.75 0 0 0 -9.5 0z" fill="#a08c69"/>
<path d="M510.25 301.09999999999997h6.4v0.3a3.2 3 0 0 1 -6.4 0z" fill="#e9e9e9"/>
<path d="M510.25 445.3h6.4v-0.3a3.2 3 0 0 0 -6.4 0z" fill="#e9e9e9"/>
<use href="#pp" x="513.45" y="312.25"/>
<use href="#pp" x="513.45" y="434.1"/>
<path d="M526.1 301.4h9.5v10.9a4.75 4.75 0 0 1 -9.5 0z" fill="#a08c69"/>
<path d="M526.1 445.0h9.5v-10.9a4.75 4.75 0 0 0 -9.5 0z" fill="#a08c69"/>
<path d="M527.65 301.09999999999997h6.4v0.3a3.2 3 0 0 1 -6.4 0z" fill="#e9e9e9"/>
<path d="M527.65 445.3h6.4v-0.3a3.2 3 0 0 0 -6.4 0z" fill="#e9e9e9"/>
<use href="#pp" x="530.85" y="312.25"/>
<use href="#pp" x="530.85" y="434.1"/>
<path d="M191.0 351.05h9.2a4.75 4.75 0 0 1 0 9.5h-9.2z" fill="#a08c69"/>
<path d="M190.7 352.8h0.3a3 3 0 0 1 0 6h-0.3z" fill="#e6e6e6"/>
<circle cx="200.3" cy="355.8" r="2.9" fill="#f4f4f4"/>
<rect x="191.0" y="368.45" width="13.8" height="9.5" fill="#a08c69"/>
<path d="M190.7 370.2h0.3a3 3 0 0 1 0 6h-0.3z" fill="#e6e6e6"/>
<circle cx="200.3" cy="373.2" r="2.9" fill="#8fe38f"/>
<path d="M191.0 385.85h9.2a4.75 4.75 0 0 1 0 9.5h-9.2z" fill="#a08c69"/>
<path d="M190.7 387.6h0.3a3 3 0 0 1 0 6h-0.3z" fill="#e6e6e6"/>
<circle cx="200.3" cy="390.6" r="2.9" fill="#f4f4f4"/>
<clipPath id="mh205334"><circle cx="205.0" cy="334.2" r="6.2"/></clipPath>
<circle cx="205.0" cy="334.2" r="6.2" fill="#e0e0e6"/>
<g clip-path="url(#mh205334)"><use href="#g" x="200.25" y="329.75"/></g>
<circle cx="205.0" cy="334.2" r="8.4" fill="none" stroke="#f7e92b" stroke-width="4.6"/>
<clipPath id="mh205412"><circle cx="205.0" cy="412.2" r="6.2"/></clipPath>
<circle cx="205.0" cy="412.2" r="6.2" fill="#e0e0e6"/>
<g clip-path="url(#mh205412)"><use href="#g" x="200.25" y="416.6"/></g>
<circle cx="205.0" cy="412.2" r="8.4" fill="none" stroke="#f7e92b" stroke-width="4.6"/>
<clipPath id="mh526334"><circle cx="526.4" cy="334.2" r="6.2"/></clipPath>
<circle cx="526.4" cy="334.2" r="6.2" fill="#e0e0e6"/>
<g clip-path="url(#mh526334)"><use href="#g" x="530.85" y="329.75"/></g>
<circle cx="526.4" cy="334.2" r="8.4" fill="none" stroke="#f7e92b" stroke-width="4.6"/>
<clipPath id="mh526412"><circle cx="526.4" cy="412.2" r="6.2"/></clipPath>
<circle cx="526.4" cy="412.2" r="6.2" fill="#e0e0e6"/>
<g clip-path="url(#mh526412)"><use href="#g" x="530.85" y="416.6"/></g>
<circle cx="526.4" cy="412.2" r="8.4" fill="none" stroke="#f7e92b" stroke-width="4.6"/>
<text transform="translate(220.6,331.9) scale(1,1.17)" font-size="9.3" fill="#e8f2ea" word-spacing="-1.3" textLength="172.5" lengthAdjust="spacing">Raspberry Pi Pico ©2020</text>
<text transform="translate(439.6,334.8) scale(1,1.22)" font-size="6.7" fill="#e4f0e6" stroke="#e4f0e6" stroke-width="0.15" textLength="39" lengthAdjust="spacing">BOOTSEL</text>
<text transform="translate(210.6,357.8) rotate(90) scale(1,1.13)" font-size="6.7" fill="#e4f0e6" textLength="30.4" lengthAdjust="spacing">DEBUG</text>
<rect x="297.8" y="346.9" width="13.8" height="20.6" rx="1.2" fill="#dcddd9"/>
<rect x="297.8" y="339.5" width="5.4" height="3" fill="#c9b48e"/>
<rect x="298.8" y="339.5" width="3.4" height="3" fill="#a98f66"/>
<rect x="316.7" y="361" width="4" height="7.8" fill="#c8c8c8"/>
<rect x="316.7" y="362.1" width="4" height="5.6" fill="#1e2222"/>
<rect x="306.2" y="371.6" width="5.6" height="2.9" fill="#c9b48e"/>
<rect x="307.2" y="371.6" width="3.6" height="2.9" fill="#a98f66"/>
<rect x="327" y="371.6" width="5.8" height="2.9" fill="#c9b48e"/>
<rect x="328" y="371.6" width="3.8" height="2.9" fill="#a98f66"/>
<rect x="327" y="376.6" width="5.8" height="3.1" fill="#c9b48e"/>
<rect x="328" y="376.6" width="3.8" height="3.1" fill="#a98f66"/>
<rect x="341.6" y="349.4" width="48.2" height="48.1" fill="#333230"/>
<g transform="translate(353.26,359.83) scale(0.0323)" fill="none" stroke="#4e4b45" stroke-width="12">
<path d="M126 418 C135 380 175 330 200 285 C215 240 235 200 300 165 C340 150 370 150 392 132 C420 100 500 95 532 122 C550 150 565 165 600 168 C650 175 690 215 695 250 C700 300 740 340 760 382 L760 460 C740 500 700 545 695 590 C690 625 650 665 600 672 C565 675 550 690 532 718 C500 745 420 740 392 708 C370 690 340 690 300 675 C235 640 215 600 200 555 C175 510 135 460 126 418Z"/>
<circle cx="347" cy="426" r="83"/><circle cx="503" cy="321" r="86"/><circle cx="510" cy="531" r="86"/><ellipse cx="648" cy="426" rx="43" ry="82"/><ellipse cx="310" cy="252" rx="78" ry="54" transform="rotate(-32 310 252)"/><ellipse cx="313" cy="594" rx="82" ry="54" transform="rotate(30 313 594)"/>
<path d="M762 390 C722 345 688 290 696 236 C735 180 815 136 892 134 C928 195 930 322 884 388 C862 410 830 418 800 410Z M762 450 C722 495 688 550 696 604 C735 660 815 704 892 706 C928 645 930 518 884 452 C862 430 830 422 800 430Z"/>
</g>
<path d="M347 353.5V392.5M353 353.5V365M353 379V392.5" stroke="#403e3a" stroke-width="1.8" stroke-dasharray="1.4 0.9" fill="none"/>
<rect x="356" y="339.5" width="3.4" height="5.5" fill="#c9b48e"/>
<rect x="356" y="340.5" width="3.4" height="3.5" fill="#a98f66"/>
<rect x="381.3" y="339.5" width="3.2" height="5.5" fill="#c9b48e"/>
<rect x="381.3" y="340.5" width="3.2" height="3.5" fill="#a98f66"/>
<rect x="387" y="336.8" width="4" height="7.4" fill="#c9b48e"/>
<rect x="387" y="337.8" width="4" height="5.4" fill="#a98f66"/>
<rect x="397" y="366.5" width="6.8" height="3.3" fill="#c9b48e"/>
<rect x="398" y="366.5" width="4.8" height="3.3" fill="#a98f66"/>
<rect x="397" y="371.6" width="6.8" height="2.9" fill="#c9b48e"/>
<rect x="398" y="371.6" width="4.8" height="2.9" fill="#a98f66"/>
<rect x="397" y="376.6" width="6.8" height="3.1" fill="#c8c8c8"/>
<rect x="398.1" y="376.6" width="4.6" height="3.1" fill="#1e2222"/>
<rect x="397" y="381.3" width="6.8" height="3.1" fill="#c8c8c8"/>
<rect x="398.1" y="381.3" width="4.6" height="3.1" fill="#1e2222"/>
<rect x="396.8" y="386.3" width="7.4" height="3.7" fill="#c9b48e"/>
<rect x="397.8" y="386.3" width="5.4" height="3.7" fill="#a98f66"/>
<rect x="396.8" y="392.5" width="7.4" height="4" fill="#c9b48e"/>
<rect x="397.8" y="392.5" width="5.4" height="4" fill="#a98f66"/>
<rect x="396.8" y="401.9" width="7.4" height="4" fill="#c9b48e"/>
<rect x="397.8" y="401.9" width="5.4" height="4" fill="#a98f66"/>
<rect x="396.8" y="408.2" width="7.4" height="4.1" fill="#c8c8c8"/>
<rect x="397.9" y="408.2" width="5.2" height="4.1" fill="#1e2222"/>
<rect x="396.8" y="415" width="7.4" height="4" fill="#c8c8c8"/>
<rect x="397.9" y="415" width="5.2" height="4" fill="#1e2222"/>
<g transform="translate(355.3,405.1) rotate(-40)">
<rect x="-3.2" y="-1.6" width="6.4" height="3.2" fill="#c9b48e"/>
<rect x="-2.2" y="-1.6" width="4.4" height="3.2" fill="#a98f66"/>
</g>
<rect x="384" y="401.2" width="3" height="5.7" fill="#c9b48e"/>
<rect x="384" y="402.2" width="3" height="3.7" fill="#a98f66"/>
<rect x="360.7" y="410.9" width="4" height="7.4" fill="#c8c8c8"/>
<rect x="360.7" y="412" width="4" height="5.2" fill="#1e2222"/>
<rect x="367.4" y="410.9" width="3.8" height="7.4" fill="#c8c8c8"/>
<rect x="367.4" y="412" width="3.8" height="5.2" fill="#1e2222"/>
<rect x="402" y="333.9" width="7.1" height="3.6" fill="#c8c8c8"/>
<rect x="403.1" y="333.9" width="4.9" height="3.6" fill="#1e2222"/>
<rect x="415.9" y="333.9" width="7.1" height="3.6" fill="#c8c8c8"/>
<rect x="417" y="333.9" width="4.9" height="3.6" fill="#1e2222"/>
<rect x="402.4" y="340.9" width="20.5" height="13.2" fill="#2a2e2e"/>
<rect x="426" y="340.2" width="5.4" height="3" fill="#c9b48e"/>
<rect x="427" y="340.2" width="3.4" height="3" fill="#a98f66"/>
<rect x="447.1" y="339" width="27.9" height="20.8" rx="1" fill="#fbfbfb"/>
<ellipse cx="461.05" cy="349.4" rx="13.2" ry="9.9" fill="#fff" stroke="#bdb6b6" stroke-width="0.85"/>
<circle cx="490.6" cy="333.9" r="2.7" fill="#b09a72"/>
<circle cx="231.9" cy="414.6" r="2.7" fill="#9a8a66"/>
<rect x="506" y="329" width="6.9" height="10.3" fill="#dbe9f1"/>
<rect x="506" y="329" width="6.9" height="6.4" fill="#f0f9f8"/>
<circle cx="509.1" cy="332.7" r="1.7" fill="#19c219"/>
<rect x="488.3" y="350.7" width="3.9" height="7.3" fill="#c8c8c8"/>
<rect x="488.3" y="351.8" width="3.9" height="5.1" fill="#1e2222"/>
<rect x="494.4" y="350.7" width="3.9" height="7.3" fill="#c8c8c8"/>
<rect x="494.4" y="351.8" width="3.9" height="5.1" fill="#1e2222"/>
<rect x="446.4" y="386" width="10.9" height="13.8" fill="#f0f0ec"/>
<rect x="446.9" y="387.3" width="9.9" height="11.2" fill="#a08f68"/>
<rect x="479.8" y="386" width="10.9" height="13.8" fill="#f0f0ec"/>
<rect x="480.3" y="387.3" width="9.9" height="11.2" fill="#a08f68"/>
<rect x="460" y="384.4" width="16.9" height="16.8" fill="#2a2e2e"/>
<rect x="494.4" y="389.1" width="3.9" height="7.4" fill="#c8c8c8"/>
<rect x="494.4" y="390.2" width="3.9" height="5.2" fill="#1e2222"/>
<rect x="424.4" y="399.5" width="14" height="7.1" fill="#f0f0f0"/>
<rect x="426.4" y="399.9" width="10" height="6.3" fill="#2c3030"/>
<rect x="460" y="407.3" width="16.9" height="13.4" rx="1.2" fill="#2a2e2e"/>
<rect x="489.7" y="408.9" width="16.8" height="10.1" fill="#2a2e2e"/>
<rect x="416.5" y="412.7" width="3.4" height="9.9" fill="#202424"/>
<rect x="430.3" y="412.7" width="5.8" height="2.9" fill="#c9b48e"/>
<rect x="431.3" y="412.7" width="3.8" height="2.9" fill="#a98f66"/>
<rect x="431.1" y="418.6" width="7" height="3.5" fill="#c8c8c8"/>
<rect x="432.2" y="418.6" width="4.8" height="3.5" fill="#1e2222"/>
<g font-size="6.7" fill="#e4f0e6">
<text transform="translate(497.9,325.9) rotate(90) scale(1,1.13)" textLength="14.8" lengthAdjust="spacing">LED</text>
<text transform="translate(497.9,364.5) rotate(90) scale(1,1.13)" textLength="15.9" lengthAdjust="spacing">USB</text>
<text transform="translate(510.1,318.3) rotate(90) scale(1,1.13)">2</text>
<text transform="translate(527.5,318.3) rotate(90) scale(1,1.13)">1</text>
<text transform="translate(510.1,419.6) rotate(90) scale(1,1.13)" textLength="8.2" lengthAdjust="spacing">39</text>
</g>
<rect x="513" y="349.5" width="41.5" height="47.6" rx="1" fill="#d9dad7"/>
<path d="M513.1 360.3 L517.1 359.7 L519.9 354.3 L522.7 354.3 L522.7 356.9 L524.8 356.9 L524.8 361.1 L522.7 361.1 L522.7 363.9 L516.3 364.1 L516.3 367.4 L518.7 367.4 L518.7 379.0 L516.3 379.0 L516.3 382.6 L522.7 382.8 L522.7 385.5 L524.8 385.5 L524.8 389.7 L522.7 389.7 L522.7 392.5 L519.9 392.5 L517.1 386.9 L513.1 386.5Z" fill="#3b3b46"/>
<g transform="translate(215,340) scale(0.07957)">
<path d="M126 418 C135 380 175 330 200 285 C215 240 235 200 300 165 C340 150 370 150 392 132 C420 100 500 95 532 122 C550 150 565 165 600 168 C650 175 690 215 695 250 C700 300 740 340 760 382 L760 460 C740 500 700 545 695 590 C690 625 650 665 600 672 C565 675 550 690 532 718 C500 745 420 740 392 708 C370 690 340 690 300 675 C235 640 215 600 200 555 C175 510 135 460 126 418Z" fill="#fff"/>
<g fill="#006838">
<ellipse cx="468" cy="177" rx="76" ry="31" transform="rotate(8 468 177)"/>
<ellipse cx="468" cy="673" rx="76" ry="31" transform="rotate(-8 468 673)"/>
<ellipse cx="310" cy="252" rx="78" ry="54" transform="rotate(-32 310 252)"/>
<ellipse cx="313" cy="594" rx="82" ry="54" transform="rotate(30 313 594)"/>
<ellipse cx="198" cy="426" rx="40" ry="87" transform="rotate(-4 198 426)"/>
<circle cx="347" cy="426" r="83"/>
<circle cx="503" cy="321" r="86"/>
<circle cx="510" cy="531" r="86"/>
<ellipse cx="648" cy="426" rx="43" ry="82"/>
<path d="M572 205 C620 200 675 250 680 325 C640 300 600 260 572 205Z"/>
<path d="M572 645 C620 650 675 600 680 525 C640 550 600 590 572 645Z"/>
</g>
<path d="M 762 390 C 722 345 688 290 696 236 C 735 180 815 136 892 134 C 928 195 930 322 884 388 C 862 410 830 418 800 410 Z" fill="#fff"/>
<path d="M 772 364 C 742 330 710 292 716 252 C 746 208 810 168 870 162 C 898 215 900 312 864 364 C 846 386 815 390 792 382 Z" fill="#006838"/>
<path d="M 762 450 C 722 495 688 550 696 604 C 735 660 815 704 892 706 C 928 645 930 518 884 452 C 862 430 830 422 800 430 Z" fill="#fff"/>
<path d="M 772 476 C 742 510 710 548 716 588 C 746 632 810 672 870 678 C 898 625 900 528 864 476 C 846 454 815 450 792 458 Z" fill="#006838"/>
<path d="M764 374 L853 236 L778 384Z" fill="#fff"/>
<path d="M764 466 L843 603 L778 456Z" fill="#fff"/>
</g>
</g>
<defs><linearGradient id="capb" x1="0" y1="0" x2="0" y2="1"><stop offset="0" stop-color="#fff" stop-opacity="0.1"/><stop offset="0.3" stop-color="#fff" stop-opacity="0.42"/><stop offset="1" stop-color="#fff" stop-opacity="0"/></linearGradient></defs>
<defs><linearGradient id="hl" x1="0" y1="0" x2="1" y2="0"><stop offset="0" stop-color="#fff" stop-opacity="0"/><stop offset="0.5" stop-color="#fff" stop-opacity="0.48"/><stop offset="1" stop-color="#fff" stop-opacity="0"/></linearGradient></defs>
<g transform="translate(0,0)">
<defs><linearGradient id="rbf" x1="0" y1="0" x2="0" y2="1"><stop offset="0" stop-color="#d84040"/><stop offset="0.09" stop-color="#f55c5c"/><stop offset="0.32" stop-color="#f55c5c"/><stop offset="0.47" stop-color="#ff6e6e"/><stop offset="0.64" stop-color="#ea4646"/><stop offset="0.9" stop-color="#ea4646"/><stop offset="1" stop-color="#d84040"/></linearGradient></defs>
<rect x="740.2" y="184" width="75" height="41.8" fill="#1a1a1a"/>
<path d="M743.6 225.6h26.9l-3.4 13.8h-19.5zM785.3 225.6h27l-4.1 13.8h-19.5z" fill="#1a1a1a"/>
<path d="M750.4 239.3h13.2v19a6.6 6.6 0 0 1 -13.2 0z" fill="#dcc88a"/>
<rect x="746.3" y="249.5" width="21.4" height="21.4" fill="#5ae65a" fill-opacity="0.33" stroke="#62ee62" stroke-opacity="0.7" stroke-width="0.7"/>
<path d="M791.6999999999999 239.3h13.2v19a6.6 6.6 0 0 1 -13.2 0z" fill="#dcc88a"/>
<rect x="787.5999999999999" y="249.5" width="21.4" height="21.4" fill="#5ae65a" fill-opacity="0.33" stroke="#62ee62" stroke-opacity="0.7" stroke-width="0.7"/>
<path d="M678.3 58 H876.9 V179.2 a12.5 12.5 0 0 1 -12.5 12.5 H690.8 a12.5 12.5 0 0 1 -12.5 -12.5Z" fill="#ff4848"/>
<rect x="740.2" y="185" width="75" height="6.9" fill="#b90000"/>
<path d="M692 48.5 V27.7 C730 18.6 825 18.6 863.2 27.7 V48.5Z" fill="#ff3c3c"/>
<path d="M692 27.7 Q777.6 30.9 863.2 27.7 V33.4 Q777.6 36.6 692 33.4Z" fill="url(#capb)"/>
<path d="M664.6 61.6 C665 53 671 48 680 48 H875.6 C884.6 48 890.4 53 890.8 61.6Z" fill="url(#rbf)" stroke="#d84040" stroke-width="0.5"/>
<defs><linearGradient id="rbi" x1="0" y1="0" x2="0" y2="1"><stop offset="0" stop-color="#ff8b8b" stop-opacity="0.57"/><stop offset="0.05" stop-color="#ff8b8b" stop-opacity="0.6"/><stop offset="0.058" stop-color="#ff8b8b" stop-opacity="0.95"/><stop offset="1" stop-color="#ff8b8b" stop-opacity="0.95"/></linearGradient></defs>
<rect x="685.7" y="54.7" width="184" height="130.2" rx="9.5" fill="url(#rbi)" stroke="#fff" stroke-opacity="0.25" stroke-width="0.6"/>
<path d="M678.3 61.6H876.9" stroke="#d84040" stroke-opacity="0.55" stroke-width="0.7"/>
<rect x="706.5" y="61.8" width="2.8" height="33.6" fill="#ffa8a8"/>
<rect x="845.2" y="61.8" width="2.8" height="33.6" fill="#ffa8a8"/>
<rect x="713.5" y="54" width="28" height="137" fill="url(#hl)"/>
<rect x="722" y="22" width="26" height="27" fill="url(#hl)"/>
</g>
<g transform="translate(296,139.5)">
<defs><linearGradient id="gbf" x1="0" y1="0" x2="0" y2="1"><stop offset="0" stop-color="#6cb48c"/><stop offset="0.09" stop-color="#97deb3"/><stop offset="0.32" stop-color="#97deb3"/><stop offset="0.47" stop-color="#aaeac4"/><stop offset="0.64" stop-color="#80d0a0"/><stop offset="0.9" stop-color="#80d0a0"/><stop offset="1" stop-color="#6cb48c"/></linearGradient></defs>
<rect x="740.2" y="184" width="75" height="41.8" fill="#1a1a1a"/>
<path d="M743.6 225.6h26.9l-3.4 13.8h-19.5zM785.3 225.6h27l-4.1 13.8h-19.5z" fill="#1a1a1a"/>
<path d="M750.4 239.3h13.2v19a6.6 6.6 0 0 1 -13.2 0z" fill="#dcc88a"/>
<rect x="746.3" y="249.5" width="21.4" height="21.4" fill="#5ae65a" fill-opacity="0.33" stroke="#62ee62" stroke-opacity="0.7" stroke-width="0.7"/>
<path d="M791.6999999999999 239.3h13.2v19a6.6 6.6 0 0 1 -13.2 0z" fill="#dcc88a"/>
<rect x="787.5999999999999" y="249.5" width="21.4" height="21.4" fill="#5ae65a" fill-opacity="0.33" stroke="#62ee62" stroke-opacity="0.7" stroke-width="0.7"/>
<path d="M678.3 58 H876.9 V179.2 a12.5 12.5 0 0 1 -12.5 12.5 H690.8 a12.5 12.5 0 0 1 -12.5 -12.5Z" fill="#86dcaa"/>
<rect x="740.2" y="185" width="75" height="6.9" fill="#4fa070"/>
<path d="M692 48.5 V27.7 C730 18.6 825 18.6 863.2 27.7 V48.5Z" fill="#84dca8"/>
<path d="M692 27.7 Q777.6 30.9 863.2 27.7 V33.4 Q777.6 36.6 692 33.4Z" fill="url(#capb)"/>
<path d="M664.6 61.6 C665 53 671 48 680 48 H875.6 C884.6 48 890.4 53 890.8 61.6Z" fill="url(#gbf)" stroke="#6cb48c" stroke-width="0.5"/>
<defs><linearGradient id="gbi" x1="0" y1="0" x2="0" y2="1"><stop offset="0" stop-color="#b5edce" stop-opacity="0.57"/><stop offset="0.05" stop-color="#b5edce" stop-opacity="0.6"/><stop offset="0.058" stop-color="#b5edce" stop-opacity="0.95"/><stop offset="1" stop-color="#b5edce" stop-opacity="0.95"/></linearGradient></defs>
<rect x="685.7" y="54.7" width="184" height="130.2" rx="9.5" fill="url(#gbi)" stroke="#fff" stroke-opacity="0.25" stroke-width="0.6"/>
<path d="M678.3 61.6H876.9" stroke="#6cb48c" stroke-opacity="0.55" stroke-width="0.7"/>
<rect x="706.5" y="61.8" width="2.8" height="33.6" fill="#cdf2dd"/>
<rect x="845.2" y="61.8" width="2.8" height="33.6" fill="#cdf2dd"/>
<rect x="713.5" y="54" width="28" height="137" fill="url(#hl)"/>
<rect x="722" y="22" width="26" height="27" fill="url(#hl)"/>
</g>
<g transform="translate(17.5,452.5)">
<defs><linearGradient id="bbf" x1="0" y1="0" x2="0" y2="1"><stop offset="0" stop-color="#2a8eae"/><stop offset="0.09" stop-color="#52c0de"/><stop offset="0.32" stop-color="#52c0de"/><stop offset="0.47" stop-color="#6cd0ea"/><stop offset="0.64" stop-color="#34aed0"/><stop offset="0.9" stop-color="#34aed0"/><stop offset="1" stop-color="#2a8eae"/></linearGradient></defs>
<rect x="740.2" y="184" width="75" height="41.8" fill="#1a1a1a"/>
<path d="M743.6 225.6h26.9l-3.4 13.8h-19.5zM785.3 225.6h27l-4.1 13.8h-19.5z" fill="#1a1a1a"/>
<path d="M750.4 239.3h13.2v19a6.6 6.6 0 0 1 -13.2 0z" fill="#dcc88a"/>
<rect x="746.3" y="249.5" width="21.4" height="21.4" fill="#5ae65a" fill-opacity="0.33" stroke="#62ee62" stroke-opacity="0.7" stroke-width="0.7"/>
<path d="M791.6999999999999 239.3h13.2v19a6.6 6.6 0 0 1 -13.2 0z" fill="#dcc88a"/>
<rect x="787.5999999999999" y="249.5" width="21.4" height="21.4" fill="#5ae65a" fill-opacity="0.33" stroke="#62ee62" stroke-opacity="0.7" stroke-width="0.7"/>
<path d="M678.3 58 H876.9 V179.2 a12.5 12.5 0 0 1 -12.5 12.5 H690.8 a12.5 12.5 0 0 1 -12.5 -12.5Z" fill="#46c0e0"/>
<rect x="740.2" y="185" width="75" height="6.9" fill="#0c80a8"/>
<path d="M692 48.5 V27.7 C730 18.6 825 18.6 863.2 27.7 V48.5Z" fill="#3cbcde"/>
<path d="M692 27.7 Q777.6 30.9 863.2 27.7 V33.4 Q777.6 36.6 692 33.4Z" fill="url(#capb)"/>
<path d="M664.6 61.6 C665 53 671 48 680 48 H875.6 C884.6 48 890.4 53 890.8 61.6Z" fill="url(#bbf)" stroke="#2a8eae" stroke-width="0.5"/>
<defs><linearGradient id="bbi" x1="0" y1="0" x2="0" y2="1"><stop offset="0" stop-color="#8dd9ed" stop-opacity="0.57"/><stop offset="0.05" stop-color="#8dd9ed" stop-opacity="0.6"/><stop offset="0.058" stop-color="#8dd9ed" stop-opacity="0.95"/><stop offset="1" stop-color="#8dd9ed" stop-opacity="0.95"/></linearGradient></defs>
<rect x="685.7" y="54.7" width="184" height="130.2" rx="9.5" fill="url(#bbi)" stroke="#fff" stroke-opacity="0.25" stroke-width="0.6"/>
<path d="M678.3 61.6H876.9" stroke="#2a8eae" stroke-opacity="0.55" stroke-width="0.7"/>
<rect x="706.5" y="61.8" width="2.8" height="33.6" fill="#b4e6f2"/>
<rect x="845.2" y="61.8" width="2.8" height="33.6" fill="#b4e6f2"/>
<rect x="713.5" y="54" width="28" height="137" fill="url(#hl)"/>
<rect x="722" y="22" width="26" height="27" fill="url(#hl)"/>
</g>
<g id="wires">
<circle cx="26.25" cy="399.2" r="4.4" fill="none" stroke="#4ee44e" stroke-width="2" stroke-opacity="0.9"/>
<circle cx="26.25" cy="468.8" r="4.4" fill="none" stroke="#4ee44e" stroke-width="2" stroke-opacity="0.9"/>
<circle cx="43.65" cy="399.2" r="4.4" fill="none" stroke="#4ee44e" stroke-width="2" stroke-opacity="0.9"/>
<circle cx="43.65" cy="468.8" r="4.4" fill="none" stroke="#4ee44e" stroke-width="2" stroke-opacity="0.9"/>
<circle cx="61.05" cy="399.2" r="4.4" fill="none" stroke="#4ee44e" stroke-width="2" stroke-opacity="0.9"/>
<circle cx="61.05" cy="468.8" r="4.4" fill="none" stroke="#4ee44e" stroke-width="2" stroke-opacity="0.9"/>
<circle cx="78.45" cy="399.2" r="4.4" fill="none" stroke="#4ee44e" stroke-width="2" stroke-opacity="0.9"/>
<circle cx="78.45" cy="468.8" r="4.4" fill="none" stroke="#4ee44e" stroke-width="2" stroke-opacity="0.9"/>
<circle cx="478.65" cy="294.95" r="4.4" fill="none" stroke="#4ee44e" stroke-width="2" stroke-opacity="0.9"/>
<circle cx="461.25" cy="294.95" r="4.4" fill="none" stroke="#4ee44e" stroke-width="2" stroke-opacity="0.9"/>
<circle cx="443.85" cy="277.55" r="4.4" fill="none" stroke="#4ee44e" stroke-width="2" stroke-opacity="0.9"/>
<circle cx="235.05" cy="294.95" r="4.4" fill="none" stroke="#4ee44e" stroke-width="2" stroke-opacity="0.9"/>
<path d="M774.5 712.3 L774.5 764.6" fill="none" stroke="#000000" stroke-width="7.5" stroke-linecap="round" stroke-linejoin="round"/>
<path d="M774.5 712.3 L774.5 764.6" fill="none" stroke="#404040" stroke-width="4.1" stroke-linecap="round" stroke-linejoin="round"/>
<circle cx="774.5" cy="712.3" r="2.9" fill="#10c810" fill-opacity="0.4"/>
<circle cx="774.5" cy="764.6" r="3.75" fill="#000000"/>
<path d="M26.1 608.4 L601.2 608.4 L601.2 312.7 L756.8 312.7 L756.8 259.9" fill="none" stroke="#000000" stroke-width="7.5" stroke-linecap="round" stroke-linejoin="round"/>
<path d="M26.1 608.4 L601.2 608.4 L601.2 312.7 L756.8 312.7 L756.8 259.9" fill="none" stroke="#404040" stroke-width="4.1" stroke-linecap="round" stroke-linejoin="round"/>
<circle cx="601.2" cy="608.4" r="3.75" fill="#000000"/>
<circle cx="601.2" cy="312.7" r="3.75" fill="#000000"/>
<circle cx="756.8" cy="312.7" r="3.75" fill="#000000"/>
<circle cx="26.1" cy="608.4" r="3.75" fill="#000000"/>
<circle cx="756.8" cy="259.9" r="2.9" fill="#10c810" fill-opacity="0.4"/>
<path d="M1052.9 399.8 L1052.9 764.6 L25.9 764.6 L26.3 468.8" fill="none" stroke="#000000" stroke-width="7.5" stroke-linecap="round" stroke-linejoin="round"/>
<path d="M1052.9 399.8 L1052.9 764.6 L25.9 764.6 L26.3 468.8" fill="none" stroke="#404040" stroke-width="4.1" stroke-linecap="round" stroke-linejoin="round"/>
<circle cx="1052.9" cy="764.6" r="3.75" fill="#000000"/>
<circle cx="25.9" cy="764.6" r="3.75" fill="#000000"/>
<circle cx="1052.9" cy="399.8" r="2.9" fill="#10c810" fill-opacity="0.4"/>
<circle cx="26.3" cy="468.8" r="2.9" fill="#10c810" fill-opacity="0.4"/>
<path d="M43.7 468.8 L43.4 626 L618.2 626 L618.2 330.6 L798.1 330.6 L798.1 259.9" fill="none" stroke="#8c0000" stroke-width="7.5" stroke-linecap="round" stroke-linejoin="round"/>
<path d="M43.7 468.8 L43.4 626 L618.2 626 L618.2 330.6 L798.1 330.6 L798.1 259.9" fill="none" stroke="#cc1616" stroke-width="4.1" stroke-linecap="round" stroke-linejoin="round"/>
<circle cx="43.4" cy="626" r="3.75" fill="#8c0000"/>
<circle cx="618.2" cy="626" r="3.75" fill="#8c0000"/>
<circle cx="618.2" cy="330.6" r="3.75" fill="#8c0000"/>
<circle cx="798.1" cy="330.6" r="3.75" fill="#8c0000"/>
<circle cx="43.7" cy="468.8" r="2.9" fill="#10c810" fill-opacity="0.4"/>
<circle cx="798.1" cy="259.9" r="2.9" fill="#10c810" fill-opacity="0.4"/>
<path d="M61.1 468.8 L61 643.5 L652.2 643.5 L652.2 434.3 L1094 434.3 L1094 399.8" fill="none" stroke="#00a52e" stroke-width="7.5" stroke-linecap="round" stroke-linejoin="round"/>
<path d="M61.1 468.8 L61 643.5 L652.2 643.5 L652.2 434.3 L1094 434.3 L1094 399.8" fill="none" stroke="#26cc36" stroke-width="4.1" stroke-linecap="round" stroke-linejoin="round"/>
<circle cx="61" cy="643.5" r="3.75" fill="#00a52e"/>
<circle cx="652.2" cy="643.5" r="3.75" fill="#00a52e"/>
<circle cx="652.2" cy="434.3" r="3.75" fill="#00a52e"/>
<circle cx="1094" cy="434.3" r="3.75" fill="#00a52e"/>
<circle cx="61.1" cy="468.8" r="2.9" fill="#10c810" fill-opacity="0.4"/>
<circle cx="1094" cy="399.8" r="2.9" fill="#10c810" fill-opacity="0.4"/>
<path d="M78.6 468.8 L78.2 747.3 L815.6 747.3 L815.6 712.3" fill="none" stroke="#1a5cb8" stroke-width="7.5" stroke-linecap="round" stroke-linejoin="round"/>
<path d="M78.6 468.8 L78.2 747.3 L815.6 747.3 L815.6 712.3" fill="none" stroke="#418dd9" stroke-width="4.1" stroke-linecap="round" stroke-linejoin="round"/>
<circle cx="78.2" cy="747.3" r="3.75" fill="#1a5cb8"/>
<circle cx="815.6" cy="747.3" r="3.75" fill="#1a5cb8"/>
<circle cx="78.6" cy="468.8" r="2.9" fill="#10c810" fill-opacity="0.4"/>
<circle cx="815.6" cy="712.3" r="2.9" fill="#10c810" fill-opacity="0.4"/>
<path d="M78.45 399.2 L78.45 243.2 L478.65 243.2 L478.65 294.95" fill="none" stroke="#1a5cb8" stroke-width="7.5" stroke-linecap="round" stroke-linejoin="round"/>
<path d="M78.45 399.2 L78.45 243.2 L478.65 243.2 L478.65 294.95" fill="none" stroke="#418dd9" stroke-width="4.1" stroke-linecap="round" stroke-linejoin="round"/>
<circle cx="78.45" cy="243.2" r="3.75" fill="#1a5cb8"/>
<circle cx="478.65" cy="243.2" r="3.75" fill="#1a5cb8"/>
<circle cx="78.45" cy="399.2" r="2.9" fill="#10c810" fill-opacity="0.4"/>
<circle cx="478.65" cy="294.95" r="2.9" fill="#10c810" fill-opacity="0.4"/>
<path d="M61.05 399.2 L61.05 260.1 L461.25 260.1 L461.25 294.95" fill="none" stroke="#00a52e" stroke-width="7.5" stroke-linecap="round" stroke-linejoin="round"/>
<path d="M61.05 399.2 L61.05 260.1 L461.25 260.1 L461.25 294.95" fill="none" stroke="#26cc36" stroke-width="4.1" stroke-linecap="round" stroke-linejoin="round"/>
<circle cx="61.05" cy="260.1" r="3.75" fill="#00a52e"/>
<circle cx="461.25" cy="260.1" r="3.75" fill="#00a52e"/>
<circle cx="61.05" cy="399.2" r="2.9" fill="#10c810" fill-opacity="0.4"/>
<circle cx="461.25" cy="294.95" r="2.9" fill="#10c810" fill-opacity="0.4"/>
<path d="M43.65 399.2 L43.65 278.5 L248 278.4 L262 277 L443.85 277.4" fill="none" stroke="#8c0000" stroke-width="7.5" stroke-linecap="round" stroke-linejoin="round"/>
<path d="M43.65 399.2 L43.65 278.5 L248 278.4 L262 277 L443.85 277.4" fill="none" stroke="#cc1616" stroke-width="4.1" stroke-linecap="round" stroke-linejoin="round"/>
<circle cx="43.65" cy="278.5" r="3.75" fill="#8c0000"/>
<circle cx="43.65" cy="399.2" r="2.9" fill="#10c810" fill-opacity="0.4"/>
<circle cx="443.85" cy="277.4" r="2.9" fill="#10c810" fill-opacity="0.4"/>
<path d="M26.25 399.2 L26.25 294.9 L235.05 294.9" fill="none" stroke="#000000" stroke-width="7.5" stroke-linecap="round" stroke-linejoin="round"/>
<path d="M26.25 399.2 L26.25 294.9 L235.05 294.9" fill="none" stroke="#404040" stroke-width="4.1" stroke-linecap="round" stroke-linejoin="round"/>
<circle cx="26.25" cy="294.9" r="3.75" fill="#000000"/>
<circle cx="26.25" cy="399.2" r="2.9" fill="#10c810" fill-opacity="0.4"/>
<circle cx="235.05" cy="294.9" r="2.9" fill="#10c810" fill-opacity="0.4"/>
</g>
<g id="logo" fill="none" stroke="#8c8c8c" stroke-width="3" stroke-linecap="round" stroke-linejoin="round">
<path d="M1093.3 808.6 V793.6 C1093.3 790.2 1095.4 788.9 1100.2 789.2 M1090.2 797.4 H1099.4"/>
<path d="M1105.3 805.6 V797.4 M1105.3 802 C1105.6 798.8 1108 797.4 1112.6 797.6"/>
<path d="M1120 797.4 V808.6"/>
<path d="M1130.7 788.8 V805 C1130.7 807.8 1132 808.8 1135.6 808.6 M1126.6 797.4 H1136"/>
<path d="M1140.8 797.4 H1152 L1140.8 808.6 H1149.8"/>
<path d="M1161.6 797.4 V808.6"/>
<path d="M1169.4 808.6 V797.4 M1169.4 802.2 C1169.8 798.8 1172 797.3 1174.6 797.3 C1177.6 797.3 1179.6 799 1179.6 802.6 V805.6"/>
<path d="M1198.6 797.4 V810 C1198.6 814.6 1196 816.6 1190 816.2 M1198.6 803 A5.6 5.6 0 1 0 1198.6 803.2"/>
</g>
<g fill="#fff" stroke="#8c8c8c" stroke-width="1.5">
<circle cx="1104.9" cy="808.4" r="2"/>
<circle cx="1120" cy="789" r="2"/>
<circle cx="1152.7" cy="808.4" r="2"/>
<circle cx="1161.6" cy="789" r="2"/>
<circle cx="1180" cy="808.4" r="2"/>
</g>
</svg></body></html>
